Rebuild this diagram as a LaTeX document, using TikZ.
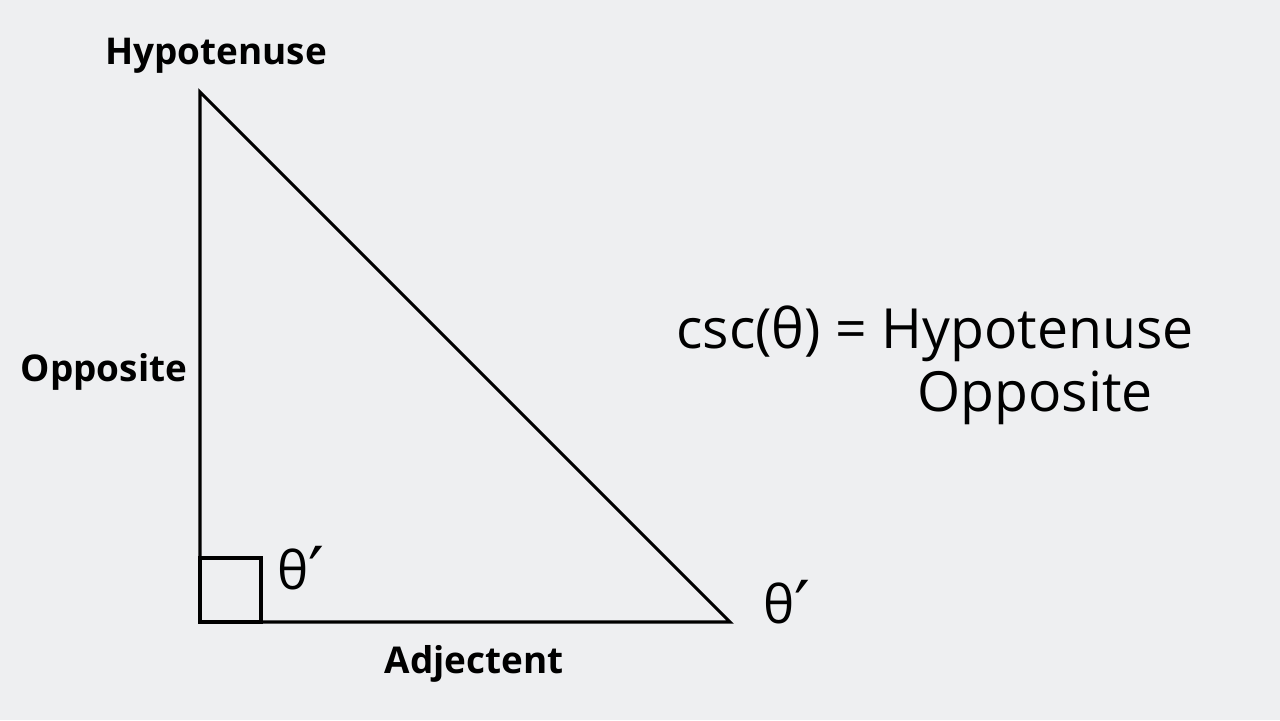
\documentclass[tikz,border=0pt]{standalone}
\usepackage{fontspec}
\setmainfont{Open Sans}
\newfontfamily\primefont{DejaVu Sans}
\definecolor{paper}{HTML}{EEEFF1}
\newcommand{\thetaprime}{θ{\primefont\fontsize{40pt}{40pt}\selectfont\raisebox{-0.12em}{′}}}
\begin{document}
\begin{tikzpicture}[x=0.02cm, y=-0.02cm,
    side/.style = {font=\fontsize{21pt}{24pt}\bfseries\selectfont},
    angle/.style = {font=\fontsize{30pt}{34pt}\selectfont},
    formula/.style = {font=\fontsize{31.5pt}{36pt}\selectfont}]
  % Background.
  \fill [paper] (0, 0) rectangle (1280, 720);
  \useasboundingbox (0, 0) rectangle (1280, 720);

  % Corners of the triangle.
  \coordinate (Top) at (200, 92);
  \coordinate (Corner) at (200, 622);
  \coordinate (Right) at (730, 622);
  \coordinate (SquareEnd) at (261, 558);

  % Triangle and right angle mark.
  \draw [line width=1.8pt, line join=miter] (Top) -- (Corner) -- (Right) -- cycle;
  \draw [line width=1.8pt] (Corner) rectangle (SquareEnd);

  % Side labels.
  \node at (216, 56) [side, name=HypotenuseLabel] {Hypotenuse};
  \node at (104, 372) [side, name=OppositeLabel] {Opposite};
  \node at (474, 664) [side, name=AdjectentLabel] {Adjectent};

  % Angles.
  \node at (301, 572) [angle, name=InnerAngle] {\thetaprime};
  \node at (787, 606) [angle, name=OuterAngle] {\thetaprime};

  % Cosecant.
  \node at (935, 334) [formula, name=CscLine] {csc(θ) = Hypotenuse};
  \node at (1035, 398) [formula, name=Denominator] {Opposite};
\end{tikzpicture}
\end{document}
